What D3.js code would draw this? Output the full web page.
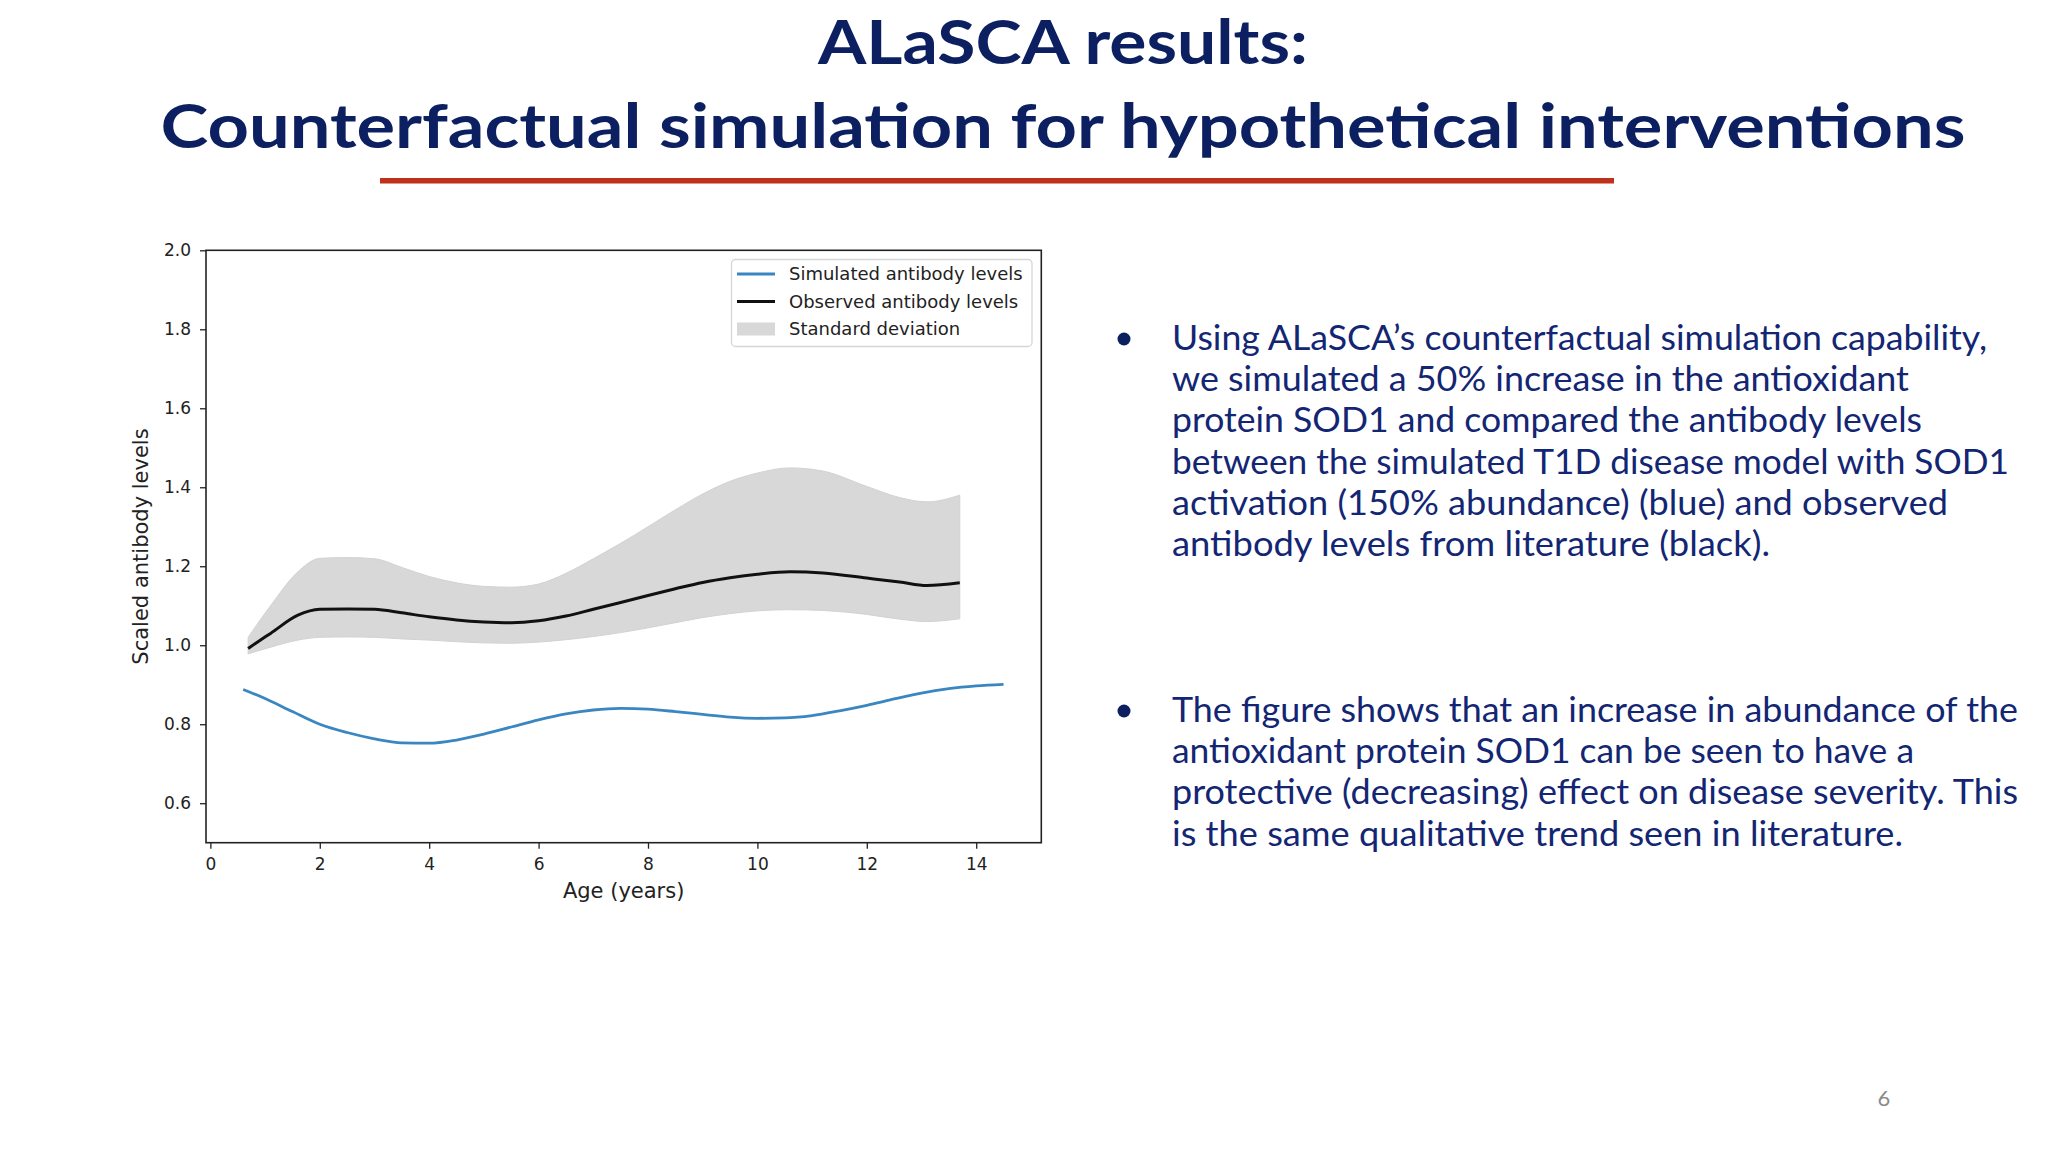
<!DOCTYPE html>
<html>
<head>
<meta charset="utf-8">
<script src="https://cdn.jsdelivr.net/npm/d3@7"></script>
<style>
  html, body { margin: 0; padding: 0; background: #ffffff; }
  svg { display: block; }
</style>
</head>
<body>
<svg id="slide" width="2048" height="1152"></svg>
<script>
// ---------------- DATA ----------------
const titleLines = ["ALaSCA results:", "Counterfactual simulation for hypothetical interventions"];

const bullet1 = [
  "Using ALaSCA\u2019s counterfactual simulation capability,",
  "we simulated a 50% increase in the antioxidant",
  "protein SOD1 and compared the antibody levels",
  "between the simulated T1D disease model with SOD1",
  "activation (150% abundance) (blue) and observed",
  "antibody levels from literature (black)."
];
const bullet2 = [
  "The figure shows that an increase in abundance of the",
  "antioxidant protein SOD1 can be seen to have a",
  "protective (decreasing) effect on disease severity. This",
  "is the same qualitative trend seen in literature."
];
const pageNumber = "6";

const xLabel = "Age (years)";
const yLabel = "Scaled antibody levels";
const legendLabels = ["Simulated antibody levels", "Observed antibody levels", "Standard deviation"];

const xTicks = [0, 2, 4, 6, 8, 10, 12, 14];
const yTicks = [0.6, 0.8, 1.0, 1.2, 1.4, 1.6, 1.8, 2.0];

// Simulated (blue) curve
const simAge = [0.6, 1.0, 1.5, 2.0, 2.5, 3.0, 3.5, 4.0, 4.5, 5.0, 5.5, 6.0, 6.5, 7.0, 7.5,
                8.0, 8.5, 9.0, 9.5, 10.0, 10.5, 11.0, 11.5, 12.0, 12.5, 13.0, 13.5, 14.0, 14.5];
const simLevel = [0.888, 0.865, 0.832, 0.800, 0.779, 0.763, 0.753, 0.752, 0.760, 0.775, 0.793, 0.811,
                  0.826, 0.836, 0.840, 0.838, 0.832, 0.825, 0.818, 0.815, 0.816, 0.822, 0.834, 0.848,
                  0.864, 0.879, 0.890, 0.897, 0.901];

// Observed (black) curve with standard deviation band
const obsAge = [0.69, 0.85, 1.1, 1.6, 2.0, 2.5, 3.0, 3.5, 4.0, 4.5, 5.0, 5.5, 6.0, 6.5, 7.0, 7.5,
                8.0, 8.5, 9.0, 9.5, 10.0, 10.6, 11.2, 12.0, 12.6, 13.1, 13.7];
const obsLevel = [0.992, 1.007, 1.030, 1.076, 1.091, 1.092, 1.091, 1.082, 1.072, 1.064, 1.059, 1.057,
                  1.062, 1.074, 1.091, 1.108, 1.126, 1.143, 1.159, 1.171, 1.180, 1.186, 1.183, 1.170,
                  1.160, 1.151, 1.158];
const obsUpper = [1.020, 1.052, 1.100, 1.186, 1.220, 1.222, 1.219, 1.197, 1.174, 1.158, 1.149, 1.147,
                  1.155, 1.182, 1.219, 1.258, 1.300, 1.343, 1.383, 1.415, 1.436, 1.449, 1.441, 1.402,
                  1.374, 1.363, 1.380];
const obsLower = [0.978, 0.985, 0.995, 1.013, 1.020, 1.021, 1.020, 1.016, 1.013, 1.009, 1.006, 1.005,
                  1.008, 1.014, 1.022, 1.032, 1.044, 1.057, 1.070, 1.080, 1.087, 1.090, 1.088, 1.078,
                  1.066, 1.060, 1.067];

// ---------------- DRAW ----------------
const svg = d3.select("#slide");
const navy = "#0c1f60";
const textNavy = "#132673";

// Title
const titleG = svg.append("g");
const titleSpec = [{y: 64, w: 490}, {y: 148, w: 1805}];
titleLines.forEach((t, i) => {
  titleG.append("text")
    .attr("x", 1063).attr("y", titleSpec[i].y)
    .attr("text-anchor", "middle")
    .attr("font-family", "Lato, 'Open Sans', sans-serif")
    .attr("font-weight", 700)
    .attr("font-size", 62)
    .attr("fill", navy)
    .attr("textLength", titleSpec[i].w)
    .attr("lengthAdjust", "spacingAndGlyphs")
    .text(t);
});
svg.append("rect").attr("x", 380).attr("y", 178).attr("width", 1234).attr("height", 5.5)
  .attr("fill", "#c0311b");

// Chart
const x = d3.scaleLinear().domain([-0.08, 15.19]).range([206, 1041.3]);
const y = d3.scaleLinear().domain([0.5, 2.0]).range([842.7, 250.3]);

const chart = svg.append("g");

const area = d3.area()
  .x((d, i) => x(obsAge[i]))
  .y0((d, i) => y(obsLower[i]))
  .y1((d, i) => y(obsUpper[i]))
  .curve(d3.curveMonotoneX);
chart.append("path").datum(obsAge).attr("d", area)
  .attr("fill", "#d9d8d9").attr("stroke", "#d3d2d3").attr("stroke-width", 1);

const obsLine = d3.line().x((d, i) => x(obsAge[i])).y((d, i) => y(obsLevel[i])).curve(d3.curveMonotoneX);
chart.append("path").datum(obsAge).attr("d", obsLine)
  .attr("fill", "none").attr("stroke", "#111").attr("stroke-width", 3);

const simLine = d3.line().x((d, i) => x(simAge[i])).y((d, i) => y(simLevel[i])).curve(d3.curveMonotoneX);
chart.append("path").datum(simAge).attr("d", simLine)
  .attr("fill", "none").attr("stroke", "#3a86c0").attr("stroke-width", 2.8);

// Axes
const tickFont = g => g.selectAll("text")
  .attr("font-family", "'DejaVu Sans', sans-serif").attr("font-size", 17).attr("fill", "#222");

const yAxis = chart.append("g").attr("transform", `translate(${x.range()[0]},0)`)
  .call(d3.axisLeft(y).tickValues(yTicks).tickSize(6).tickPadding(9).tickFormat(d3.format(".1f")));
yAxis.select(".domain").remove();
yAxis.selectAll("line").attr("stroke", "#222").attr("stroke-width", 1.3);
yAxis.call(tickFont);

const xAxis = chart.append("g").attr("transform", `translate(0,${y.range()[0]})`)
  .call(d3.axisBottom(x).tickValues(xTicks).tickSize(6).tickPadding(9).tickFormat(d3.format("d")));
xAxis.select(".domain").remove();
xAxis.selectAll("line").attr("stroke", "#222").attr("stroke-width", 1.3);
xAxis.call(tickFont);

// Frame
chart.append("rect")
  .attr("x", x.range()[0]).attr("y", y.range()[1])
  .attr("width", x.range()[1] - x.range()[0]).attr("height", y.range()[0] - y.range()[1])
  .attr("fill", "none").attr("stroke", "#222").attr("stroke-width", 1.6);

// Axis labels
chart.append("text")
  .attr("x", (x.range()[0] + x.range()[1]) / 2).attr("y", 898)
  .attr("text-anchor", "middle")
  .attr("font-family", "'DejaVu Sans', sans-serif").attr("font-size", 21).attr("fill", "#222")
  .text(xLabel);
chart.append("text")
  .attr("transform", `translate(148,${(y.range()[0] + y.range()[1]) / 2}) rotate(-90)`)
  .attr("text-anchor", "middle")
  .attr("font-family", "'DejaVu Sans', sans-serif").attr("font-size", 21).attr("fill", "#222")
  .text(yLabel);

// Legend
const leg = chart.append("g");
leg.append("rect").attr("x", 731.5).attr("y", 259.5).attr("width", 300.5).attr("height", 87)
  .attr("rx", 4).attr("fill", "#fff").attr("stroke", "#d6d6d6").attr("stroke-width", 1.3);
const rowY = [274, 301.5, 329];
leg.append("line").attr("x1", 737).attr("x2", 775).attr("y1", rowY[0]).attr("y2", rowY[0])
  .attr("stroke", "#3a86c0").attr("stroke-width", 2.8);
leg.append("line").attr("x1", 737).attr("x2", 775).attr("y1", rowY[1]).attr("y2", rowY[1])
  .attr("stroke", "#111").attr("stroke-width", 3);
leg.append("rect").attr("x", 737).attr("y", rowY[2] - 6.5).attr("width", 38).attr("height", 13)
  .attr("fill", "#d9d8d9");
legendLabels.forEach((t, i) => {
  leg.append("text").attr("x", 789).attr("y", rowY[i]).attr("dy", "0.36em")
    .attr("font-family", "'DejaVu Sans', sans-serif").attr("font-size", 18).attr("fill", "#222")
    .text(t);
});

// Bullets
const bulletG = svg.append("g");
const b1Widths = [815, 737, 750, 837, 776, 598];
const b2Widths = [846, 742, 846, 731];
function drawBullet(lines, widths, y0) {
  bulletG.append("circle").attr("cx", 1124).attr("cy", y0 - 11).attr("r", 6.5).attr("fill", navy);
  lines.forEach((t, i) => {
    bulletG.append("text")
      .attr("x", 1172).attr("y", y0 + i * 41.2)
      .attr("font-family", "Lato, 'Open Sans', sans-serif")
      .attr("font-size", 34)
      .attr("fill", textNavy)
      .attr("textLength", widths[i])
      .attr("lengthAdjust", "spacingAndGlyphs")
      .text(t);
  });
}
drawBullet(bullet1, b1Widths, 350);
drawBullet(bullet2, b2Widths, 722);

svg.append("text").attr("x", 1884).attr("y", 1106).attr("text-anchor", "middle")
  .attr("font-family", "Lato, sans-serif").attr("font-size", 22).attr("fill", "#8a8a8a")
  .text(pageNumber);
</script>
</body>
</html>
